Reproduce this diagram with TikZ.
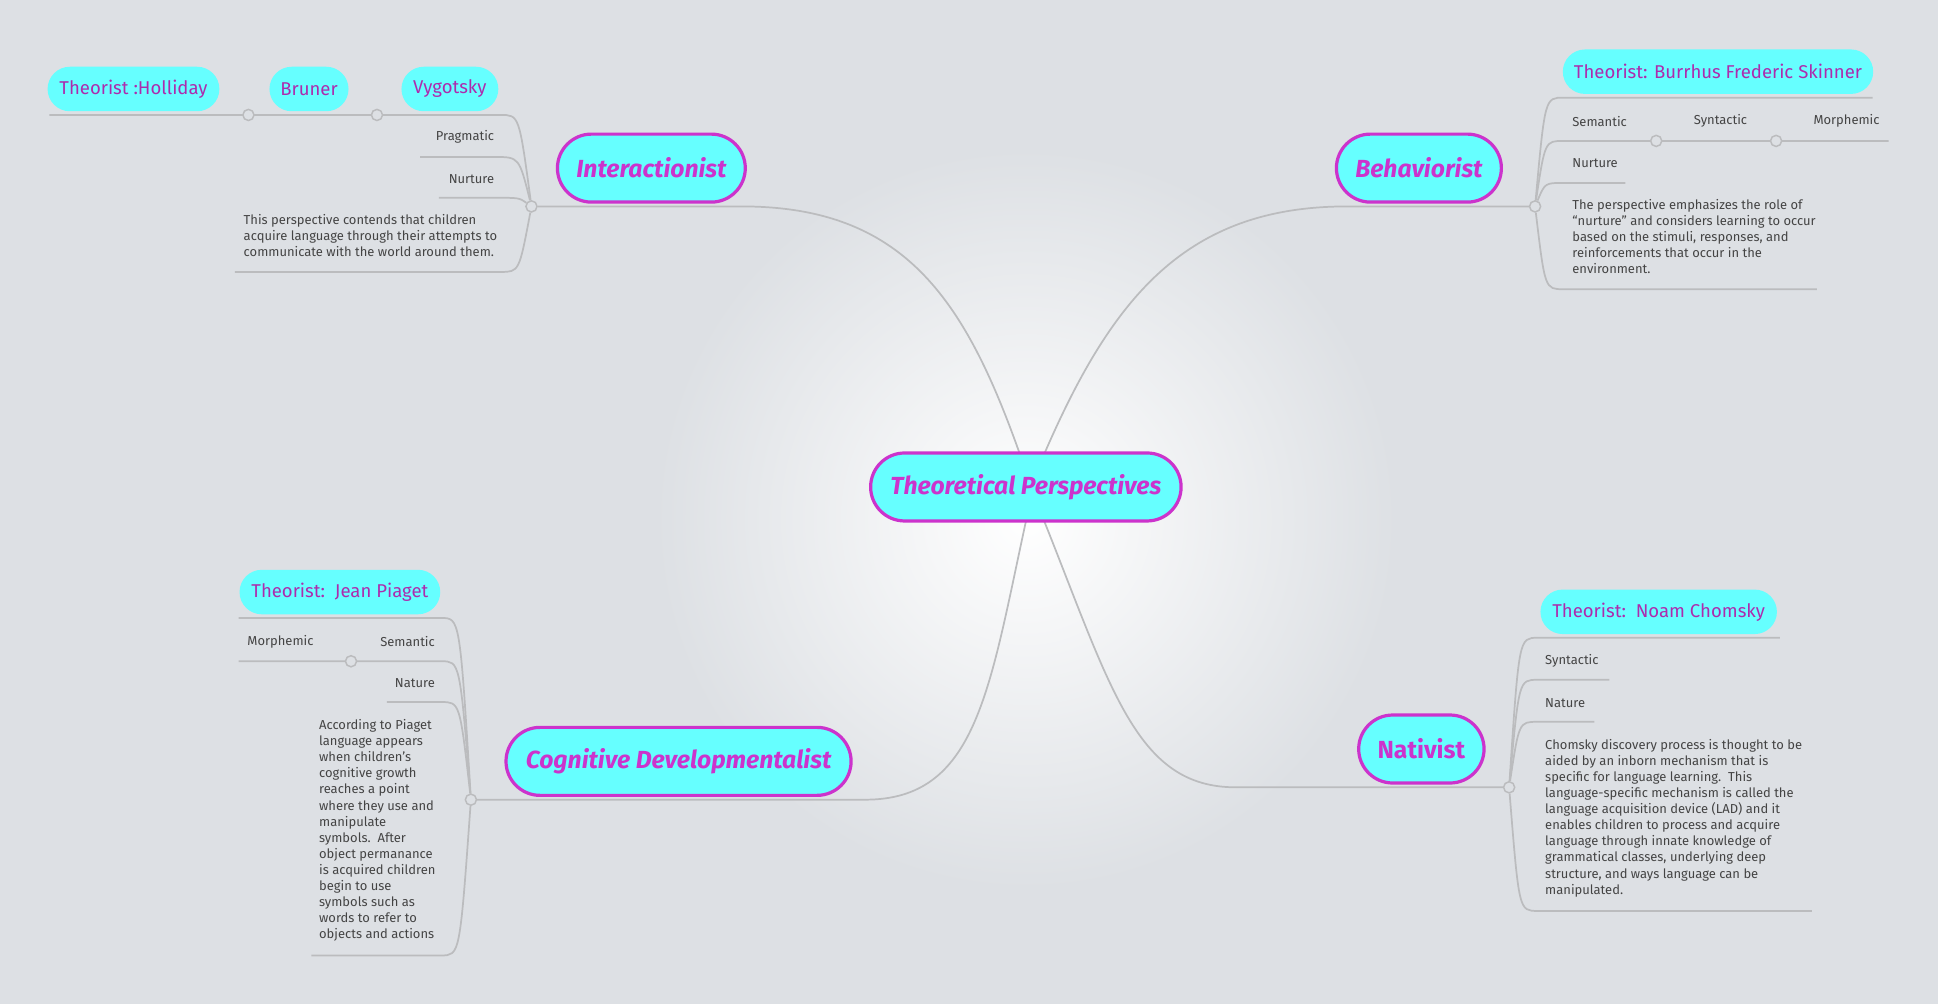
\documentclass[tikz,border=0pt]{standalone}
\usepackage{fontspec}
\setmainfont{Fira Sans}
\usetikzlibrary{shapes.misc}
\definecolor{bg}{HTML}{DDE0E4}
\definecolor{cy}{HTML}{66FFFF}
\definecolor{mg}{HTML}{CC33CC}
\definecolor{ln}{HTML}{BBBCBE}
\definecolor{tx}{HTML}{444444}
\tikzset{
 main/.style={rounded rectangle,fill=cy,draw=mg,line width=2.6pt,text=mg,font=\fontsize{20}{24}\selectfont\bfseries\itshape,inner xsep=14pt,minimum height=55pt},
 theo/.style={rounded rectangle,fill=cy,text=mg!85!black,font=\fontsize{15}{18}\selectfont,inner xsep=8pt,minimum height=36pt},
 sm/.style={text=tx,font=\fontsize{10.5}{13}\selectfont,inner sep=0pt},
 para/.style={sm,align=left},
 conn/.style={draw=ln,line width=1.4pt},
 hub/.style={circle,draw=ln,line width=1.2pt,fill=bg,inner sep=0pt,minimum size=9pt},
}
\begin{document}
\begin{tikzpicture}[x=1pt,y=-1pt]
\useasboundingbox (0,0) rectangle (1568,812);
\fill[bg] (0,0) rectangle (1568,812);
\shade[inner color=white,outer color=bg] (830,420) circle (300);
% main connectors
\coordinate (ct1) at (825,367); \coordinate (ct2) at (845,367);
\coordinate (cb1) at (830,422); \coordinate (cb2) at (845,422);
\node[hub] (ih) at (430,167) {};
\node[hub] (bh) at (1242,167) {};
\node[hub] (ch) at (381,647) {};
\node[hub] (nh) at (1221,637) {};
\draw[conn] (ct1) .. controls (780,240) and (730,167) .. (600,167) -- (ih);
\draw[conn] (ct2) .. controls (900,240) and (960,167) .. (1090,167) -- (bh);
\draw[conn] (cb1) .. controls (800,560) and (790,647) .. (700,647) -- (ch);
\draw[conn] (cb2) .. controls (900,560) and (920,637) .. (1000,637) -- (nh);
% Interactionist branches
\draw[conn] (ih) .. controls (420,93) .. (405,93) -- (40,93);
\draw[conn] (ih) .. controls (420,127) .. (400,127) -- (340,127);
\draw[conn] (ih) .. controls (420,160) .. (400,160) -- (355,160);
\draw[conn] (ih) .. controls (420,220) .. (405,220) -- (190,220);
\node[hub] (i1) at (201,93) {}; \node[hub] (i2) at (305,93) {};
\node[theo] (hol) at (108,72) {Theorist :Holliday};
\node[theo] (bru) at (250,72) {Bruner};
\node[theo] (vyg) at (364,72) {Vygotsky};
\node[sm,anchor=east] (prag) at (400,111) {Pragmatic};
\node[sm,anchor=east] (inur) at (400,145) {Nurture};
\node[para,anchor=north west] (ipar) at (197,173) {This perspective contends that children\\acquire language through their attempts to\\communicate with the world around them.};
% Behaviorist branches
\draw[conn] (bh) .. controls (1250,79) .. (1265,79) -- (1515,79);
\draw[conn] (bh) .. controls (1250,114) .. (1265,114) -- (1528,114);
\draw[conn] (bh) .. controls (1250,148) .. (1265,148) -- (1315,148);
\draw[conn] (bh) .. controls (1250,234) .. (1265,234) -- (1470,234);
\node[hub] (b1) at (1340,114) {}; \node[hub] (b2) at (1437,114) {};
\node[theo] (ski) at (1390,58) {Theorist: Burrhus Frederic Skinner};
\node[sm,anchor=west] (bsem) at (1272,98) {Semantic};
\node[sm] (bsyn) at (1392,98) {Syntactic};
\node[sm] (bmor) at (1494,98) {Morphemic};
\node[sm,anchor=west] (bnur) at (1272,132) {Nurture};
\node[para,anchor=north west] (bpar) at (1272,161) {The perspective emphasizes the role of\\``nurture'' and considers learning to occur\\based on the stimuli, responses, and\\reinforcements that occur in the\\environment.};
% Cognitive branches
\draw[conn] (ch) .. controls (372,500) .. (357,500) -- (193,500);
\draw[conn] (ch) .. controls (372,535) .. (357,535) -- (193,535);
\draw[conn] (ch) .. controls (372,568) .. (357,568) -- (313,568);
\draw[conn] (ch) .. controls (372,773) .. (357,773) -- (252,773);
\node[hub] (c1) at (284,535) {};
\node[theo] (pia) at (275,479) {Theorist:\ \ Jean Piaget};
\node[sm,anchor=west] (cmor) at (200,519) {Morphemic};
\node[sm,anchor=east] (csem) at (352,519) {Semantic};
\node[sm,anchor=east] (cnat) at (352,553) {Nature};
\node[para,anchor=north west] (cpar) at (258,582) {According to Piaget\\language appears\\when children's\\cognitive growth\\reaches a point\\where they use and\\manipulate\\symbols.\ \ After\\object permanance\\is acquired children\\begin to use\\symbols such as\\words to refer to\\objects and actions};
% Nativist branches
\draw[conn] (nh) .. controls (1229,516) .. (1244,516) -- (1440,516);
\draw[conn] (nh) .. controls (1229,550) .. (1244,550) -- (1302,550);
\draw[conn] (nh) .. controls (1229,584) .. (1244,584) -- (1290,584);
\draw[conn] (nh) .. controls (1229,737) .. (1244,737) -- (1466,737);
\node[theo] (cho) at (1342,495) {Theorist:\ \ Noam Chomsky};
\node[sm,anchor=west] (nsyn) at (1250,535) {Syntactic};
\node[sm,anchor=west] (nnat) at (1250,569) {Nature};
\node[para,anchor=north west] (npar) at (1250,598) {Chomsky discovery process is thought to be\\aided by an inborn mechanism that is\\specific for language learning.\ \ This\\language-specific mechanism is called the\\language acquisition device (LAD) and it\\enables children to process and acquire\\language through innate knowledge of\\grammatical classes, underlying deep\\structure, and ways language can be\\manipulated.};
% main nodes
\node[main] (tp) at (830,394) {Theoretical Perspectives};
\node[main] (int) at (527,136) {Interactionist};
\node[main] (beh) at (1148,136) {Behaviorist};
\node[main] (cog) at (549,616) {Cognitive Developmentalist};
\node[main,font=\fontsize{20}{24}\selectfont\bfseries] (nat) at (1150,606) {Nativist};
\end{tikzpicture}
\end{document}
